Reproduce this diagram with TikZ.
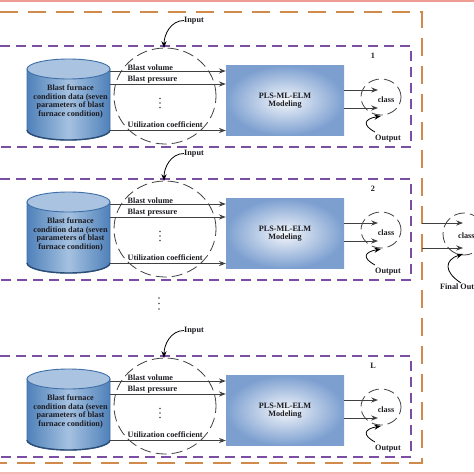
\documentclass[tikz,border=0pt]{standalone}
\usepackage{fontspec}
\setmainfont{Liberation Serif}
\usepackage{tikz}
\usetikzlibrary{positioning,arrows.meta,calc,shapes.geometric}
\definecolor{pinkbar}{HTML}{EE9C94}
\definecolor{dashorange}{HTML}{D08A4C}
\definecolor{dashpurple}{HTML}{7A4FA3}
\definecolor{dbedge}{HTML}{3F6FA8}
\definecolor{dbside}{HTML}{4F81BA}
\definecolor{dbmid}{HTML}{A5C1E0}
\definecolor{dbtop}{HTML}{A9C3E0}
\definecolor{mlouter}{HTML}{7C9FD0}
\definecolor{txtdark}{HTML}{1C1C22}
\tikzset{
  >={Stealth[length=2.4mm]},
  lbl/.style={font=\fontsize{8.2}{8.5}\selectfont\bfseries,text=txtdark,inner sep=0pt},
  outerdash/.style={draw=dashorange,line width=1.1pt,dash pattern=on 18pt off 10pt},
  groupdash/.style={draw=dashpurple,line width=1.1pt,dash pattern=on 10pt off 6pt},
  ringdash/.style={draw=black!75,line width=0.8pt,dash pattern=on 11pt off 5pt},
  flow/.style={->,line width=0.9pt,black!75},
  curved/.style={->,line width=0.8pt,black},
  dbnode/.style={rectangle,minimum width=83pt,minimum height=81pt,inner sep=0pt},
  dbbody/.style={draw=dbedge,line width=0.9pt,left color=dbside,right color=dbside,middle color=dbmid},
  mlnode/.style={rectangle,minimum width=118pt,minimum height=70pt,inner sep=0pt,
    inner color=white!92!mlouter,outer color=mlouter},
  dotmark/.style={circle,fill=black!70,inner sep=0pt,minimum size=1.6pt},
}
\begin{document}
\begin{tikzpicture}[x=1pt,y=-1pt]
  \useasboundingbox (0,0) rectangle (474,474);
  \clip (0,0) rectangle (474,474);
  \fill[pinkbar] (0,0) rectangle (474,2);
  \fill[pinkbar!70!white] (0,472) rectangle (474,474);
  % outer frame
  \draw[outerdash] (0,12) -- (422,12) -- (422,463) -- (0,463);
  % three groups, same layout
  \foreach \t/\n/\m in {0/1/a,133/2/b,310/L/c}{
    \begin{scope}[yshift=-\t pt]
      \draw[groupdash] (0,46) -- (411,46) -- (411,147) -- (0,147);
      \node[dbnode] (db\m) at (68.5,99.5) {};
      \path[dbbody] (27,69) -- (27,130) arc[start angle=180,end angle=360,x radius=41.5pt,y radius=10pt] -- (110,69) -- cycle;
      \draw[dbedge!70!black,line width=1.4pt] (27,130) arc[start angle=180,end angle=360,x radius=41.5pt,y radius=10pt];
      \draw[draw=dbedge,line width=0.9pt,fill=dbtop] (68.5,69) ellipse (41.5pt and 10pt);
      \node[lbl,align=center] (dbtxt\m) at (70.5,101.5) {Blast furnace\\condition data (seven\\parameters of blast\\furnace condition)};
      \node[mlnode] (ml\m) at (285,100.5) {};
      \node[lbl,align=center] (mltxt\m) at (285,100.5) {PLS-ML-ELM\\Modeling};
      \draw[ringdash] (165,96) ellipse (51pt and 48pt);
      \node[lbl,anchor=west] (v1\m) at (127.5,67.5) {Blast volume};
      \node[lbl,anchor=west] (v2\m) at (127.5,80) {Blast pressure};
      \node[lbl,anchor=west] (v3\m) at (127.5,124.5) {Utilization coefficient};
      \node[dotmark] (d1\m) at (160,98.5) {};
      \node[dotmark] (d2\m) at (160,103) {};
      \node[dotmark] (d3\m) at (160,107.5) {};
      \node[lbl] (in\m) at (194,20.5) {Input};
      \node[lbl] (num\m) at (373,56) {\n};
      \draw[curved] (in\m.west) to[out=180,in=90] (164,48);
      \draw[flow] (db\m.east |- 0,71) -- (ml\m.west |- 0,71);
      \draw[flow] (db\m.east |- 0,84) -- (ml\m.west |- 0,84);
      \draw[flow] (db\m.east |- 0,130.5) -- (ml\m.west |- 0,130.5);
      % output side
      \draw[ringdash] (381,97) ellipse (20pt and 18pt);
      \node[lbl] (cl\m) at (386,99.5) {class};
      \node[lbl] (out\m) at (388,139) {Output};
      \coordinate (t1\m) at (378,90);
      \coordinate (t2\m) at (378,108);
      \draw[flow] (ml\m.east |- t1\m) -- (t1\m);
      \draw[flow] (ml\m.east |- t2\m) -- (t2\m);
      \coordinate (os\m) at (375,132);
      \coordinate (oe\m) at (381,116);
      \draw[curved] (os\m) .. controls (362,125) and (364,119) .. (oe\m);
    \end{scope}
  }
  % dots between groups
  \node[dotmark] (gap1) at (159,298) {};
  \node[dotmark] (gap2) at (159,303.5) {};
  \node[dotmark] (gap3) at (159,309) {};
  % final output
  \draw[ringdash] (464,234) circle (21pt);
  \node[lbl,anchor=west] (finalcl) at (458,236) {class};
  \node[lbl,anchor=west] (finalout) at (440,287.5) {Final Output};
  \coordinate (f1) at (463,223);
  \coordinate (f2) at (463,248);
  \draw[flow] (422,223) -- (f1);
  \draw[flow] (422,248) -- (f2);
  \coordinate (fe) at (463,254);
  \draw[curved] (461,283) .. controls (444,272) and (444,260) .. (fe);
\end{tikzpicture}
\end{document}
